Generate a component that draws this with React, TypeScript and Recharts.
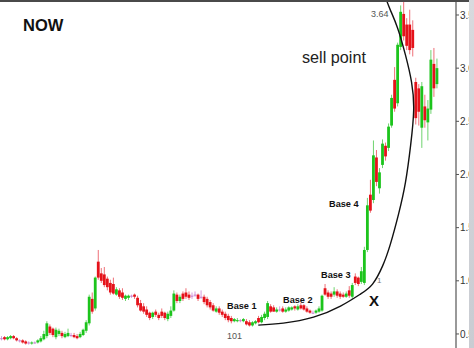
import { Bar, ComposedChart, Line, XAxis, YAxis } from "recharts";

// daily candles, oldest first
const opens = [
  0.46, 0.47, 0.45, 0.46, 0.48, 0.46, 0.44, 0.44, 0.43, 0.42,
  0.41, 0.42, 0.42, 0.43, 0.45, 0.48, 0.57, 0.55, 0.47, 0.5,
  0.51, 0.47, 0.48, 0.49, 0.49, 0.48, 0.47, 0.49, 0.53, 0.6,
  0.83, 0.74, 1.18, 1.07, 1.06, 1.02, 0.98, 0.97, 0.87, 0.91,
  0.89, 0.83, 0.84, 0.86, 0.87, 0.84, 0.79, 0.76, 0.73, 0.7,
  0.66, 0.71, 0.68, 0.71, 0.7, 0.64, 0.67, 0.72, 0.87, 0.81,
  0.88, 0.89, 0.87, 0.86, 0.87, 0.87, 0.85, 0.85, 0.83, 0.8,
  0.77, 0.71, 0.74, 0.71, 0.69, 0.67, 0.65, 0.62, 0.62, 0.63,
  0.62, 0.62, 0.61, 0.58, 0.6, 0.65, 0.61, 0.65, 0.66, 0.76,
  0.75, 0.71, 0.73, 0.74, 0.71, 0.72, 0.73, 0.76, 0.73, 0.77,
  0.77, 0.74, 0.72, 0.7, 0.7, 0.71, 0.72, 0.93, 0.89, 0.88,
  0.87, 0.9, 0.88, 0.87, 0.85, 0.91, 0.85, 1.04, 1.03, 0.99,
  0.98, 1.29, 1.81, 1.76, 2.16, 1.87, 2.09, 2.27, 2.25, 2.46,
  2.89, 2.67, 3.2, 3.51, 3.41, 3.41, 3.36, 2.87, 2.81, 2.44,
  2.64, 2.49, 2.61, 3.04, 2.85,
];

const highs = [
  0.48, 0.48, 0.48, 0.49, 0.49, 0.47, 0.45, 0.45, 0.44, 0.43,
  0.43, 0.43, 0.45, 0.48, 0.53, 0.62, 0.59, 0.56, 0.56, 0.55,
  0.53, 0.52, 0.55, 0.51, 0.51, 0.5, 0.52, 0.55, 0.63, 0.87,
  0.89, 1.04, 1.29, 1.12, 1.13, 1.04, 1.01, 1.03, 0.94, 0.93,
  0.93, 0.87, 0.87, 0.87, 0.88, 0.86, 0.82, 0.79, 0.76, 0.71,
  0.71, 0.73, 0.7, 0.74, 0.71, 0.71, 0.76, 0.91, 0.89, 0.87,
  0.9, 0.93, 0.9, 0.89, 0.9, 0.88, 0.91, 0.87, 0.85, 0.82,
  0.79, 0.76, 0.76, 0.73, 0.71, 0.69, 0.67, 0.65, 0.65, 0.64,
  0.65, 0.64, 0.63, 0.62, 0.63, 0.67, 0.68, 0.71, 0.81, 0.78,
  0.77, 0.75, 0.76, 0.76, 0.75, 0.76, 0.76, 0.77, 0.78, 0.79,
  0.78, 0.76, 0.73, 0.72, 0.73, 0.76, 0.87, 0.97, 0.91, 0.9,
  0.94, 0.92, 0.9, 0.89, 0.9, 0.95, 0.98, 1.07, 1.04, 1.13,
  1.32, 1.78, 1.95, 2.32, 2.23, 2.06, 2.33, 2.3, 2.48, 2.75,
  3.01, 3.24, 3.59, 3.64, 3.47, 3.55, 3.45, 2.91, 2.85, 2.87,
  2.75, 2.7, 3.17, 3.19, 3.09,
];

const lows = [
  0.44, 0.44, 0.44, 0.45, 0.45, 0.43, 0.42, 0.41, 0.4, 0.4,
  0.4, 0.41, 0.41, 0.42, 0.44, 0.46, 0.49, 0.47, 0.45, 0.48,
  0.46, 0.46, 0.47, 0.47, 0.46, 0.45, 0.46, 0.48, 0.51, 0.58,
  0.69, 0.72, 1.01, 0.98, 0.94, 0.91, 0.87, 0.87, 0.86, 0.83,
  0.82, 0.81, 0.82, 0.84, 0.83, 0.75, 0.71, 0.69, 0.66, 0.63,
  0.64, 0.66, 0.63, 0.65, 0.63, 0.62, 0.65, 0.71, 0.79, 0.79,
  0.81, 0.83, 0.82, 0.83, 0.85, 0.81, 0.83, 0.78, 0.75, 0.73,
  0.71, 0.7, 0.68, 0.66, 0.63, 0.61, 0.6, 0.61, 0.61, 0.61,
  0.61, 0.58, 0.57, 0.57, 0.59, 0.6, 0.6, 0.63, 0.64, 0.7,
  0.71, 0.7, 0.71, 0.7, 0.7, 0.71, 0.72, 0.72, 0.72, 0.73,
  0.72, 0.7, 0.69, 0.69, 0.69, 0.7, 0.71, 0.86, 0.83, 0.83,
  0.85, 0.84, 0.83, 0.84, 0.84, 0.84, 0.83, 0.96, 0.95, 0.97,
  0.96, 1.27, 1.64, 1.73, 1.89, 1.82, 2.06, 2.13, 2.22, 2.44,
  2.59, 2.64, 3.17, 3.26, 3.17, 3.13, 3.11, 2.47, 2.46, 2.25,
  2.44, 2.32, 2.57, 2.73, 2.81,
];

const closes = [
  0.46, 0.45, 0.47, 0.48, 0.46, 0.44, 0.44, 0.42, 0.41, 0.42,
  0.42, 0.42, 0.44, 0.46, 0.5, 0.6, 0.51, 0.49, 0.54, 0.53,
  0.48, 0.5, 0.51, 0.49, 0.47, 0.46, 0.5, 0.54, 0.61, 0.85,
  0.71, 1.03, 1.03, 1.0, 0.96, 0.94, 0.89, 0.88, 0.92, 0.85,
  0.84, 0.86, 0.86, 0.86, 0.85, 0.77, 0.72, 0.71, 0.68, 0.65,
  0.7, 0.68, 0.65, 0.67, 0.65, 0.69, 0.72, 0.88, 0.81, 0.85,
  0.83, 0.85, 0.84, 0.86, 0.87, 0.83, 0.85, 0.8, 0.77, 0.75,
  0.72, 0.74, 0.7, 0.68, 0.65, 0.63, 0.62, 0.64, 0.63, 0.63,
  0.64, 0.59, 0.58, 0.61, 0.62, 0.61, 0.66, 0.69, 0.79, 0.71,
  0.71, 0.73, 0.73, 0.71, 0.73, 0.75, 0.75, 0.74, 0.76, 0.74,
  0.73, 0.71, 0.7, 0.7, 0.72, 0.74, 0.86, 0.87, 0.85, 0.85,
  0.9, 0.86, 0.85, 0.85, 0.88, 0.86, 0.96, 0.98, 0.97, 1.09,
  1.29, 1.71, 1.66, 2.18, 1.93, 2.02, 2.29, 2.17, 2.45, 2.72,
  2.62, 3.22, 3.53, 3.3, 3.21, 3.17, 3.19, 2.53, 2.59, 2.83,
  2.51, 2.62, 3.08, 2.81, 3.0,
];

// hand-drawn parabolic arc, as (candle index, price) pairs
const arcIndex = [84.9, 93.2, 103.2, 112.1, 118.7, 122.7, 126.0, 128.6, 131.3, 133.6, 135.3, 136.3, 135.6, 133.6, 131.0, 128.6, 127.3];
const arcPrice = [0.583, 0.602, 0.658, 0.762, 0.875, 0.969, 1.138, 1.345, 1.627, 1.928, 2.276, 2.605, 2.868, 3.122, 3.376, 3.546, 3.64];

const priceTicks = [0.5, 1, 1.5, 2, 2.5, 3, 3.5];

const candles = opens.map((open, i) => ({ i, open, high: highs[i], low: lows[i], close: closes[i] }));
const arc = arcIndex.map((i, k) => ({ i, p: arcPrice[k] }));
const peak = Math.max(...highs);

const UP = "#1cc41c";
const DOWN = "#e5121a";
const FLAT = "#c77fd0";

function Candle(props: any) {
  const { x, y, width, height, payload } = props;
  const { open, close, high, low } = payload;
  const top = Math.min(y, y + height);
  const h = Math.abs(height);
  const toY = (v: number) => top + ((high - v) / (high - low)) * h;
  const color = close > open ? UP : close < open ? DOWN : FLAT;
  const wick = close > open ? "#6fd46f" : close < open ? "#ee7078" : "#d59ddd";
  const cx = x + width / 2;
  const bodyTop = toY(Math.max(open, close));
  const bodyH = Math.max(1, toY(Math.min(open, close)) - bodyTop);
  const bw = 2.8;
  return (
    <g>
      <rect x={cx - 0.5} y={top} width={1} height={h} fill={wick} />
      <rect x={cx - bw / 2} y={bodyTop} width={bw} height={bodyH} fill={color} />
    </g>
  );
}

const sans = "'Liberation Sans', Arial, Helvetica, sans-serif";

export default function App() {
  return (
    <div style={{ position: "absolute", left: 0, top: 0, width: 474, height: 348, overflow: "hidden", background: "#fff" }}>
      <ComposedChart width={474} height={348} data={candles} margin={{ top: 0, right: 0, bottom: 0, left: 0 }}>
        <XAxis dataKey="i" type="number" domain={[-0.5, 150.3]} allowDataOverflow hide />
        <YAxis
          orientation="right"
          width={18}
          domain={[0.368, 3.641]}
          allowDataOverflow
          ticks={priceTicks}
          tickFormatter={(v: number) => v.toFixed(1)}
          tick={{ fontSize: 10, fill: "#333", fontFamily: sans, textAnchor: "start" }}
          tickSize={3}
          tickMargin={1}
          tickLine={{ stroke: "#555" }}
          axisLine={{ stroke: "#555", strokeWidth: 1.2 }}
        />
        <Bar
          dataKey={(d: any) => [d.low, d.high]}
          barSize={3}
          shape={<Candle />}
          isAnimationActive={false}
        />
        <Line
          data={arc}
          dataKey="p"
          type="natural"
          stroke="#111"
          strokeWidth={1.4}
          dot={false}
          activeDot={false}
          isAnimationActive={false}
        />
      </ComposedChart>

      <svg width={474} height={348} style={{ position: "absolute", left: 0, top: 0, pointerEvents: "none" }}>
        <text x={23} y={31} fontFamily={sans} fontWeight="bold" fontSize={16.5} fill="#111">NOW</text>
        <text x={302} y={63} fontFamily={sans} fontSize={16.2} fill="#222">sell point</text>
        <text x={371} y={17} fontFamily={sans} fontSize={9} fill="#555">{peak.toFixed(2)}</text>
        <text x={227} y={309} fontFamily={sans} fontWeight="bold" fontSize={9.2} fill="#111">Base 1</text>
        <text x={283} y={303} fontFamily={sans} fontWeight="bold" fontSize={9.2} fill="#111">Base 2</text>
        <text x={321} y={278} fontFamily={sans} fontWeight="bold" fontSize={9.2} fill="#111">Base 3</text>
        <text x={329} y={207} fontFamily={sans} fontWeight="bold" fontSize={9.2} fill="#111">Base 4</text>
        <text x={369} y={306} fontFamily={sans} fontWeight="bold" fontSize={15} fill="#111">X</text>
        <text x={377} y={283} fontFamily={sans} fontSize={8} fill="#777">1</text>
        <text x={227} y={339} fontFamily={sans} fontSize={9} fill="#555">101</text>
      </svg>

      <div style={{ position: "absolute", left: 0, top: 0, width: 474, height: 2, background: "#4a4a4a" }} />
      <div style={{ position: "absolute", right: 0, top: 0, width: 5, height: 348, background: "linear-gradient(#d8dade, #c9ccd2)" }} />
    </div>
  );
}
